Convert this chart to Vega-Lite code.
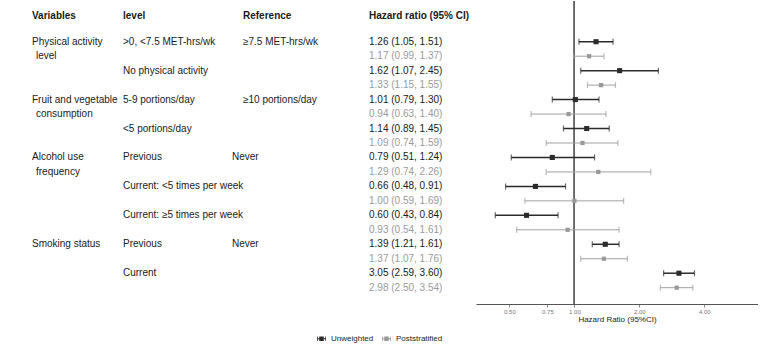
{
  "$schema": "https://vega.github.io/schema/vega-lite/v6.json",
  "padding": {"left": 32, "top": 0, "right": 0, "bottom": 0},
  "background": "white",
  "spacing": 0,
  "bounds": "flush",
  "config": {
    "view": {"stroke": null},
    "font": "Liberation Sans",
    "text": {"font": "Liberation Sans"},
    "legend": {"labelFont": "Liberation Sans"},
    "axis": {"labelFont": "Liberation Sans", "titleFont": "Liberation Sans"}
  },
  "datasets": {
    "header": [
      {"row": -0.78, "variables": "Variables", "level": "level", "reference": "Reference", "hr": "Hazard ratio (95% CI)"}
    ],
    "rows": [
      {"row": 1, "method": "Unweighted", "var": "Physical activity", "level": ">0, <7.5 MET-hrs/wk", "ref": "≥7.5 MET-hrs/wk", "hr": 1.26, "lo": 1.05, "hi": 1.51, "label": "1.26 (1.05, 1.51)"},
      {"row": 2, "method": "Poststratified", "var": "level", "level": "", "ref": "", "hr": 1.17, "lo": 0.99, "hi": 1.37, "label": "1.17 (0.99, 1.37)"},
      {"row": 3, "method": "Unweighted", "var": "", "level": "No physical activity", "ref": "", "hr": 1.62, "lo": 1.07, "hi": 2.45, "label": "1.62 (1.07, 2.45)"},
      {"row": 4, "method": "Poststratified", "var": "", "level": "", "ref": "", "hr": 1.33, "lo": 1.15, "hi": 1.55, "label": "1.33 (1.15, 1.55)"},
      {"row": 5, "method": "Unweighted", "var": "Fruit and vegetable", "level": "5-9 portions/day", "ref": "≥10 portions/day", "hr": 1.01, "lo": 0.79, "hi": 1.30, "label": "1.01 (0.79, 1.30)"},
      {"row": 6, "method": "Poststratified", "var": "consumption", "level": "", "ref": "", "hr": 0.94, "lo": 0.63, "hi": 1.40, "label": "0.94 (0.63, 1.40)"},
      {"row": 7, "method": "Unweighted", "var": "", "level": "<5 portions/day", "ref": "", "hr": 1.14, "lo": 0.89, "hi": 1.45, "label": "1.14 (0.89, 1.45)"},
      {"row": 8, "method": "Poststratified", "var": "", "level": "", "ref": "", "hr": 1.09, "lo": 0.74, "hi": 1.59, "label": "1.09 (0.74, 1.59)"},
      {"row": 9, "method": "Unweighted", "var": "Alcohol use", "level": "Previous", "ref": "Never", "hr": 0.79, "lo": 0.51, "hi": 1.24, "label": "0.79 (0.51, 1.24)"},
      {"row": 10, "method": "Poststratified", "var": "frequency", "level": "", "ref": "", "hr": 1.29, "lo": 0.74, "hi": 2.26, "label": "1.29 (0.74, 2.26)"},
      {"row": 11, "method": "Unweighted", "var": "", "level": "Current: <5 times per week", "ref": "", "hr": 0.66, "lo": 0.48, "hi": 0.91, "label": "0.66 (0.48, 0.91)"},
      {"row": 12, "method": "Poststratified", "var": "", "level": "", "ref": "", "hr": 1.00, "lo": 0.59, "hi": 1.69, "label": "1.00 (0.59, 1.69)"},
      {"row": 13, "method": "Unweighted", "var": "", "level": "Current: ≥5 times per week", "ref": "", "hr": 0.60, "lo": 0.43, "hi": 0.84, "label": "0.60 (0.43, 0.84)"},
      {"row": 14, "method": "Poststratified", "var": "", "level": "", "ref": "", "hr": 0.93, "lo": 0.54, "hi": 1.61, "label": "0.93 (0.54, 1.61)"},
      {"row": 15, "method": "Unweighted", "var": "Smoking status", "level": "Previous", "ref": "Never", "hr": 1.39, "lo": 1.21, "hi": 1.61, "label": "1.39 (1.21, 1.61)"},
      {"row": 16, "method": "Poststratified", "var": "", "level": "", "ref": "", "hr": 1.37, "lo": 1.07, "hi": 1.76, "label": "1.37 (1.07, 1.76)"},
      {"row": 17, "method": "Unweighted", "var": "", "level": "Current", "ref": "", "hr": 3.05, "lo": 2.59, "hi": 3.60, "label": "3.05 (2.59, 3.60)"},
      {"row": 18, "method": "Poststratified", "var": "", "level": "", "ref": "", "hr": 2.98, "lo": 2.50, "hi": 3.54, "label": "2.98 (2.50, 3.54)"}
    ]
  },
  "hconcat": [
    {
      "width": 91, "height": 303,
      "layer": [
        {
          "data": {"name": "header"},
          "mark": {"type": "text", "align": "left", "baseline": "middle", "fontSize": 10, "fontWeight": "bold", "color": "#1a1a1a"},
          "encoding": {
            "x": {"value": 0},
            "y": {"field": "row", "type": "quantitative", "scale": {"domain": [-1.813, 19.127], "reverse": true, "nice": false, "zero": false}, "axis": null},
            "text": {"field": "variables"}
          }
        },
        {
          "data": {"name": "rows"},
          "transform": [{"filter": "datum.method === 'Unweighted'"}],
          "mark": {"type": "text", "align": "left", "baseline": "middle", "fontSize": 10, "color": "#1a1a1a"},
          "encoding": {
            "x": {"value": 0},
            "y": {"field": "row", "type": "quantitative", "scale": {"domain": [-1.813, 19.127], "reverse": true, "nice": false, "zero": false}, "axis": null},
            "text": {"field": "var"}
          }
        },
        {
          "data": {"name": "rows"},
          "transform": [{"filter": "datum.method === 'Poststratified'"}],
          "mark": {"type": "text", "align": "left", "baseline": "middle", "fontSize": 10, "color": "#1a1a1a", "dx": 4},
          "encoding": {
            "x": {"value": 0},
            "y": {"field": "row", "type": "quantitative", "scale": {"domain": [-1.813, 19.127], "reverse": true, "nice": false, "zero": false}, "axis": null},
            "text": {"field": "var"}
          }
        }
      ]
    },
    {
      "width": 120, "height": 303,
      "layer": [
        {
          "data": {"name": "header"},
          "mark": {"type": "text", "align": "left", "baseline": "middle", "fontSize": 10, "fontWeight": "bold", "color": "#1a1a1a"},
          "encoding": {
            "x": {"value": 0},
            "y": {"field": "row", "type": "quantitative", "scale": {"domain": [-1.813, 19.127], "reverse": true, "nice": false, "zero": false}, "axis": null},
            "text": {"field": "level"}
          }
        },
        {
          "data": {"name": "rows"},
          "mark": {"type": "text", "align": "left", "baseline": "middle", "fontSize": 10, "color": "#1a1a1a"},
          "encoding": {
            "x": {"value": 0},
            "y": {"field": "row", "type": "quantitative", "scale": {"domain": [-1.813, 19.127], "reverse": true, "nice": false, "zero": false}, "axis": null},
            "text": {"field": "level"}
          }
        }
      ]
    },
    {
      "width": 126, "height": 303,
      "layer": [
        {
          "data": {"name": "header"},
          "mark": {"type": "text", "align": "left", "baseline": "middle", "fontSize": 10, "fontWeight": "bold", "color": "#1a1a1a"},
          "encoding": {
            "x": {"value": 0},
            "y": {"field": "row", "type": "quantitative", "scale": {"domain": [-1.813, 19.127], "reverse": true, "nice": false, "zero": false}, "axis": null},
            "text": {"field": "reference"}
          }
        },
        {
          "data": {"name": "rows"},
          "transform": [{"filter": "datum.ref !== 'Never'"}],
          "mark": {"type": "text", "align": "left", "baseline": "middle", "fontSize": 10, "color": "#1a1a1a"},
          "encoding": {
            "x": {"value": 0},
            "y": {"field": "row", "type": "quantitative", "scale": {"domain": [-1.813, 19.127], "reverse": true, "nice": false, "zero": false}, "axis": null},
            "text": {"field": "ref"}
          }
        },
        {
          "data": {"name": "rows"},
          "transform": [{"filter": "datum.ref === 'Never'"}],
          "mark": {"type": "text", "align": "left", "baseline": "middle", "fontSize": 10, "color": "#1a1a1a", "dx": -11},
          "encoding": {
            "x": {"value": 0},
            "y": {"field": "row", "type": "quantitative", "scale": {"domain": [-1.813, 19.127], "reverse": true, "nice": false, "zero": false}, "axis": null},
            "text": {"field": "ref"}
          }
        }
      ]
    },
    {
      "width": 107, "height": 303,
      "layer": [
        {
          "data": {"name": "header"},
          "mark": {"type": "text", "align": "left", "baseline": "middle", "fontSize": 10, "fontWeight": "bold", "color": "#1a1a1a"},
          "encoding": {
            "x": {"value": 0},
            "y": {"field": "row", "type": "quantitative", "scale": {"domain": [-1.813, 19.127], "reverse": true, "nice": false, "zero": false}, "axis": null},
            "text": {"field": "hr"}
          }
        },
        {
          "data": {"name": "rows"},
          "mark": {"type": "text", "align": "left", "baseline": "middle", "fontSize": 10},
          "encoding": {
            "x": {"value": 0},
            "y": {"field": "row", "type": "quantitative", "scale": {"domain": [-1.813, 19.127], "reverse": true, "nice": false, "zero": false}, "axis": null},
            "text": {"field": "label"},
            "color": {"condition": {"test": "datum.method === 'Unweighted'", "value": "#1a1a1a"}, "value": "#9a9a9a"}
          }
        }
      ]
    },
    {
      "width": 282, "height": 303,
      "data": {"name": "rows"},
      "layer": [
        {
          "mark": {"type": "rule", "color": "#666666", "strokeWidth": 1},
          "encoding": {
            "x": {"datum": 1, "type": "quantitative", "scale": {"type": "log", "domain": [0.35, 7.09], "nice": false, "zero": false}}
          }
        },
        {
          "mark": {"type": "rule"},
          "encoding": {
            "x": {"field": "lo", "type": "quantitative", "scale": {"type": "log", "domain": [0.35, 7.09], "nice": false, "zero": false},
              "axis": {"values": [0.5, 0.75, 1, 2, 4], "format": ".2f", "grid": false, "labelFontSize": 6, "labelColor": "#777777", "labelPadding": 1, "tickColor": "#888888", "tickSize": 3, "domainColor": "#555555", "title": "Hazard Ratio (95%CI)", "titleFontSize": 8, "titleFontWeight": "normal", "titleColor": "#222222", "titlePadding": 1}},
            "x2": {"field": "hi"},
            "y": {"field": "row", "type": "quantitative", "scale": {"domain": [-1.813, 19.127], "reverse": true, "nice": false, "zero": false}, "axis": null},
            "color": {"condition": {"test": "datum.method === 'Unweighted'", "value": "#2b2b2b"}, "value": "#a0a0a0"},
            "strokeWidth": {"condition": {"test": "datum.method === 'Unweighted'", "value": 1.5}, "value": 1}
          }
        },
        {
          "mark": {"type": "tick", "orient": "vertical", "size": 6, "thickness": 1.2},
          "encoding": {
            "x": {"field": "lo", "type": "quantitative"},
            "y": {"field": "row", "type": "quantitative"},
            "color": {"condition": {"test": "datum.method === 'Unweighted'", "value": "#2b2b2b"}, "value": "#a0a0a0"}
          }
        },
        {
          "mark": {"type": "tick", "orient": "vertical", "size": 6, "thickness": 1.2},
          "encoding": {
            "x": {"field": "hi", "type": "quantitative"},
            "y": {"field": "row", "type": "quantitative"},
            "color": {"condition": {"test": "datum.method === 'Unweighted'", "value": "#2b2b2b"}, "value": "#a0a0a0"}
          }
        },
        {
          "mark": {"type": "square", "filled": true, "opacity": 1},
          "encoding": {
            "x": {"field": "hr", "type": "quantitative"},
            "y": {"field": "row", "type": "quantitative"},
            "size": {"condition": {"test": "datum.method === 'Unweighted'", "value": 26}, "value": 18},
            "color": {"field": "method", "type": "nominal",
              "scale": {"domain": ["Unweighted", "Poststratified"], "range": ["#2b2b2b", "#999999"]},
              "legend": {"title": null, "orient": "none", "legendX": 285, "legendY": 333, "direction": "horizontal",
                "symbolType": "M-1,-0.1H1V0.1H-1Z M-0.5,-0.5H0.5V0.5H-0.5Z M-1,-0.5H-0.85V0.5H-1Z M0.85,-0.5H1V0.5H0.85Z",
                "symbolSize": 81, "symbolStrokeWidth": 0, "symbolOpacity": 1, "labelFontSize": 8, "labelColor": "#222222", "labelOffset": 5, "columnPadding": 8, "padding": 0}}
          }
        }
      ]
    }
  ]
}
